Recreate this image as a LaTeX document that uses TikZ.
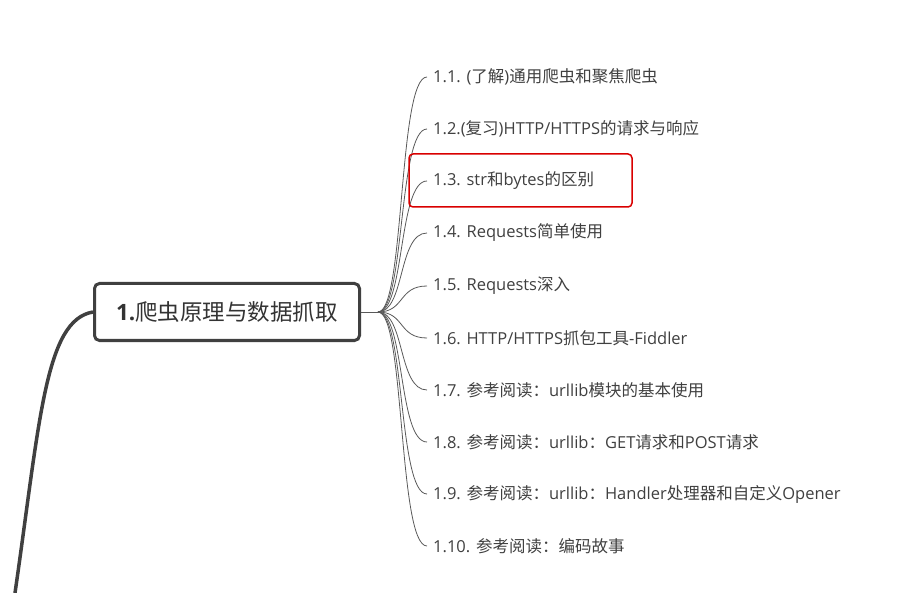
\documentclass[tikz,border=0pt]{standalone}
\usepackage{fontspec}
\setmainfont{Open Sans}
\newfontfamily\cjk{Noto Sans CJK SC}
\newcommand{\zh}[1]{{\cjk #1}}
\begin{document}
\begin{tikzpicture}[x=1pt,y=-1pt,
  leaf/.style={anchor=west,inner sep=0pt,text=black!75,font=\fontsize{16.5}{18}\selectfont},
  branch/.style={draw=black!65,line width=0.8pt},
  rootbox/.style={draw=black!75,line width=3pt,rounded corners=5pt,fill=white,minimum width=265pt,minimum height=57pt,text=black!80,font=\fontsize{22.5}{26}\selectfont}]
\useasboundingbox (0,0) rectangle (923,593);
\coordinate (s) at (15,593);
\node[rootbox] (root) at (227,312) {\textbf{1.}\zh{爬虫原理与数据抓取}};
\draw[line width=3.5pt,draw=black!75] (s) .. controls (40,420) and (45,320) .. (root.west);
\coordinate (j) at (378,312);
\draw[branch] (root.east) -- (j);
\foreach \n/\y/\t in {1/77/{1.1. (\zh{了解})\zh{通用爬虫和聚焦爬虫}},2/129/{1.2.(\zh{复习})HTTP/HTTPS\zh{的请求与响应}},3/181/{1.3. str\zh{和}bytes\zh{的区别}},4/233/{1.4. Requests\zh{简单使用}},5/286/{1.5. Requests\zh{深入}},6/338/{1.6. HTTP/HTTPS\zh{抓包工具}-Fiddler},7/390/{1.7. \zh{参考阅读：}urllib\zh{模块的基本使用}},8/442/{1.8. \zh{参考阅读：}urllib\zh{：}GET\zh{请求和}POST\zh{请求}},9/494/{1.9. \zh{参考阅读：}urllib\zh{：}Handler\zh{处理器和自定义}Opener},10/546/{1.10. \zh{参考阅读：编码故事}}}{
  \node[leaf] (c\n) at (433,\y) {\t};
  \draw[branch] (j) .. controls (405,312) and (398,\y) .. ([xshift=-6pt]c\n.west);
}
\draw[draw=red!85!black,line width=1.5pt,rounded corners=4pt] (409,154) rectangle (632,207);
\end{tikzpicture}
\end{document}
